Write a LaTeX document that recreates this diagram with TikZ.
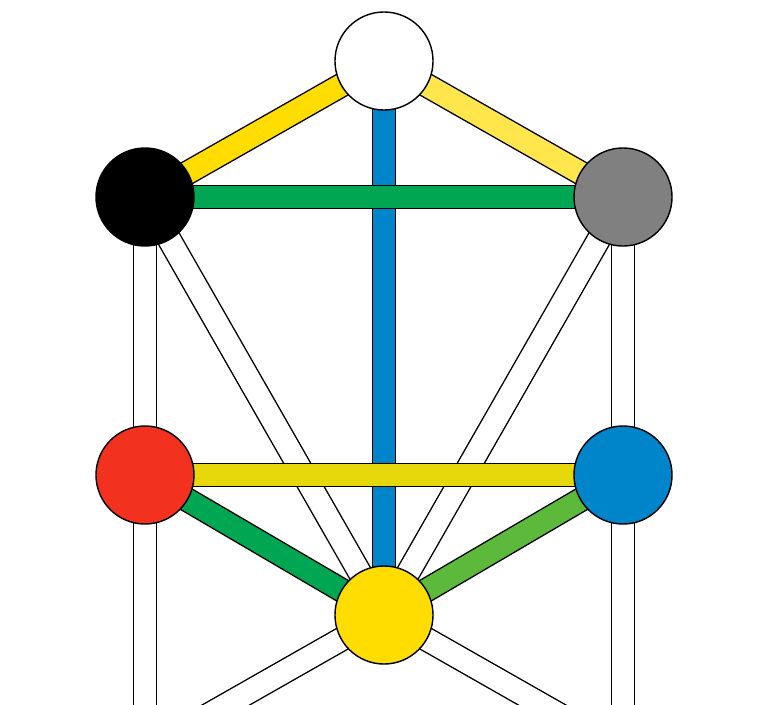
\documentclass[tikz,border=0pt]{standalone}
\usetikzlibrary{backgrounds}

\definecolor{goldbar}{HTML}{FFDD00}
\definecolor{paleyellow}{HTML}{FFE64D}
\definecolor{pathblue}{HTML}{0085CA}
\definecolor{pathgreen}{HTML}{00A651}
\definecolor{oliveyellow}{HTML}{E6D80B}
\definecolor{lightgreen}{HTML}{5DB93B}
\definecolor{sphered}{HTML}{F2321E}

\begin{document}
\begin{tikzpicture}[x=0.025cm, y=-0.025cm,
                    sphere/.style={circle,draw,line width=1pt,minimum size=2.45cm,inner sep=0pt},
                    bar/.style={line width=1pt,double=#1,double distance=0.55cm},
                    bar/.default=white]

  \useasboundingbox (0,0) rectangle (768,704);

  \node[sphere, fill=white] (kether) at (384,61) {};
  \node[sphere, fill=black] (binah) at (145,197) {};
  \node[sphere, fill=gray] (chokmah) at (623,197) {};
  \node[sphere, fill=sphered] (geburah) at (145,475) {};
  \node[sphere, fill=pathblue] (chesed) at (623,475) {};
  \node[sphere, fill=goldbar] (tiphareth) at (384,615) {};
  \coordinate (hod) at (145,751);
  \coordinate (netzach) at (623,751);

  \begin{scope}[on background layer]
    % white paths
    \draw[bar] (binah.center) -- (geburah.center);
    \draw[bar] (geburah.center) -- (hod);
    \draw[bar] (chokmah.center) -- (chesed.center);
    \draw[bar] (chesed.center) -- (netzach);
    \draw[bar] (binah.center) -- (tiphareth.center);
    \draw[bar] (chokmah.center) -- (tiphareth.center);
    \draw[bar] (tiphareth.center) -- (hod);
    \draw[bar] (tiphareth.center) -- (netzach);

    % coloured paths
    \draw[bar=pathblue] (kether.center) -- (tiphareth.center);
    \draw[bar=pathgreen] (binah.center) -- (chokmah.center);
    \draw[bar=oliveyellow] (geburah.center) -- (chesed.center);
    \draw[bar=goldbar] (kether.center) -- (binah.center);
    \draw[bar=paleyellow] (kether.center) -- (chokmah.center);
    \draw[bar=pathgreen] (geburah.center) -- (tiphareth.center);
    \draw[bar=lightgreen] (chesed.center) -- (tiphareth.center);
  \end{scope}

\end{tikzpicture}
\end{document}
